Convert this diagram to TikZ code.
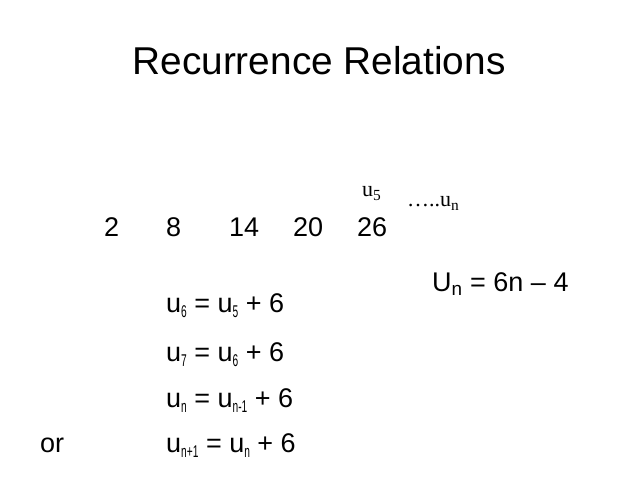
\documentclass[tikz,border=0pt]{standalone}
\usepackage{fontspec}
\setmainfont{Liberation Sans}
\newfontfamily\serif{Liberation Serif}
\newcommand{\mysub}[1]{\raisebox{-0.3ex}{\scalebox{0.6}[1]{\fontsize{17}{17}\selectfont #1}}}
\begin{document}
\begin{tikzpicture}[x=1pt,y=-1pt,t/.style={anchor=base west,inner sep=0pt,font=\fontsize{27}{32}\selectfont}]
\useasboundingbox[fill=white] (0,0) rectangle (638,478);
\node[anchor=base,inner sep=0pt,font=\fontsize{38.8}{44}\selectfont] (title) at (319,75) {Recurrence Relations};
\node[t] (a) at (104,237) {2};
\node[t] (b) at (166,237) {8};
\node[t] (c) at (229,237) {14};
\node[t] (d) at (293,237) {20};
\node[t] (e) at (357,237) {26};
\node[t,font=\serif\fontsize{22}{26}\selectfont] (u5) at (362,197) {u\textsubscript{5}};
\node[t,font=\serif\fontsize{22}{26}\selectfont] (un) at (407,207) {…..u\textsubscript{n}};
\node[t] (f) at (432,292) {U\textsubscript{n} = 6n – 4};
\node[t] (e1) at (166,313) {u\mysub{6} = u\mysub{5} + 6};
\node[t] (e2) at (166,362) {u\mysub{7} = u\mysub{6} + 6};
\node[t] (e3) at (166,408) {u\mysub{n} = u\mysub{n-1} + 6};
\node[t] (e4) at (166,453) {u\mysub{n+1} = u\mysub{n} + 6};
\node[t] (or) at (40,453) {or};
\end{tikzpicture}
\end{document}
